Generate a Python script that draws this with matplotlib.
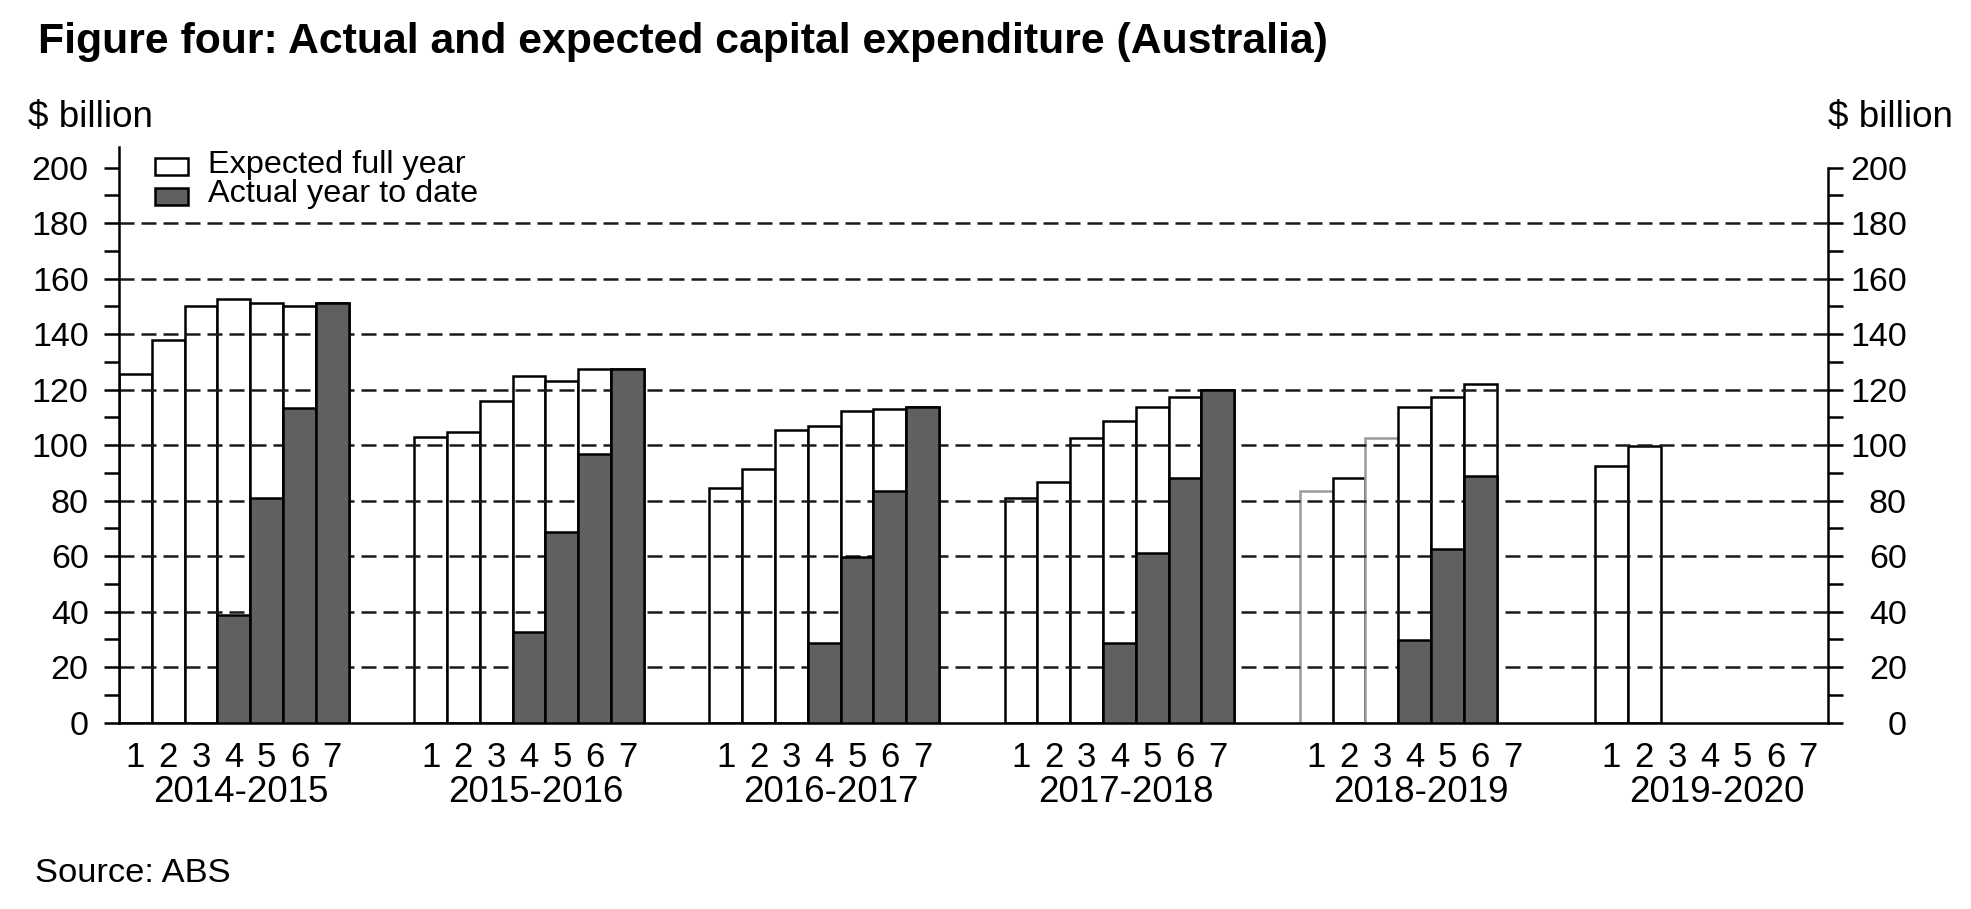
import numpy as np
import matplotlib
matplotlib.use('Agg')
import matplotlib.pyplot as plt
from matplotlib.patches import Rectangle
from matplotlib.transforms import blended_transform_factory

plt.rcParams['font.family'] = ['Liberation Sans', 'DejaVu Sans']

years = ['2014-2015', '2015-2016', '2016-2017', '2017-2018', '2018-2019', '2019-2020']
estimates = ['1', '2', '3', '4', '5', '6', '7']
nan = np.nan

# expected full year capex, $ billion, by estimate number
expected = [
    [125.6, 138.0, 150.3, 152.8, 151.2, 150.3, 151.2],
    [103.0, 104.6, 116.0, 124.8, 123.2, 127.4, 127.4],
    [84.4, 91.4, 105.5, 107.0, 112.3, 113.1, 113.9],
    [80.8, 86.9, 102.6, 108.8, 113.9, 117.5, 119.8],
    [83.6, 88.1, 102.5, 113.9, 117.5, 122.0, nan],
    [92.4, 99.8, nan, nan, nan, nan, nan],
]
# actual year to date
actual = [
    [nan, nan, nan, 38.8, 81.0, 113.5, 151.2],
    [nan, nan, nan, 32.8, 68.7, 96.9, 127.4],
    [nan, nan, nan, 28.9, 59.6, 83.5, 113.9],
    [nan, nan, nan, 28.9, 61.0, 88.0, 119.8],
    [nan, nan, nan, 29.8, 62.7, 89.0, nan],
    [nan, nan, nan, nan, nan, nan, nan],
]
# expected bars drawn with a grey outline (year index, estimate index)
grey_bars = [(4, 0), (4, 2)]

W, H = 1971, 909
def fx(x):
    return x / W
def fy(y):
    return 1 - y / H

fig = plt.figure(figsize=(W / 100, H / 100), dpi=100)
ax = fig.add_axes([fx(119), fy(722.7), fx(1828 - 119), (722.7 - 146.6) / H])

slots = 9
lw = 1.8
xs, exp_h, act_h, edges = [], [], [], []
for g in range(len(years)):
    for p in range(7):
        xs.append(g * slots + p + 0.5)
        exp_h.append(expected[g][p])
        act_h.append(actual[g][p])
        edges.append('#9a9a9a' if (g, p) in grey_bars else 'black')
xs = np.array(xs)

ax.bar(xs, exp_h, width=1.0, color='white', edgecolor=edges, linewidth=lw, zorder=1)
for y in range(20, 200, 20):
    ax.axhline(y, color='#1a1a1a', linewidth=lw, linestyle=(0, (6.0, 2.8)), zorder=2)
ax.bar(xs, act_h, width=1.0, color='#606060', edgecolor='black', linewidth=lw, zorder=3)

ax.set_xlim(0, 52.1)
ax.set_ylim(0, 207.6)
ax.spines['top'].set_visible(False)
ax.spines['right'].set_visible(False)
for s in ['left', 'bottom']:
    ax.spines[s].set_linewidth(lw)

ax.set_xticks(xs)
ax.set_xticklabels(estimates * len(years), fontsize=25)
ax.tick_params(axis='x', length=0, pad=13)

major = np.arange(0, 201, 20)
minor = np.arange(10, 200, 20)
ax.set_yticks(major)
ax.set_yticks(minor, minor=True)
ax.tick_params(axis='y', which='both', direction='out', length=10.8, width=lw,
               labelsize=24.5, pad=11)

sec = ax.secondary_yaxis('right')
sec.set_yticks(major)
sec.set_yticks(minor, minor=True)
sec.tick_params(axis='y', which='both', direction='out', length=10.8, width=lw,
                labelsize=24.5, pad=46)
sec.spines['right'].set_linewidth(lw)
sec.spines['right'].set_bounds(0, 200)
for lab in sec.get_yticklabels():
    lab.set_ha('right')

trans = blended_transform_factory(ax.transData, fig.transFigure)
for g, yr in enumerate(years):
    ax.text(g * slots + 3.7, fy(801.7), yr, transform=trans, ha='center', va='baseline',
            fontsize=26.5)

fig.text(fx(28), fy(126.7), '$ billion', fontsize=26.5, va='baseline', ha='left')
fig.text(fx(1828), fy(126.7), '$ billion', fontsize=26.5, va='baseline', ha='left')

# legend
fig.patches.append(Rectangle((fx(155), fy(175)), fx(33), 17 / H, transform=fig.transFigure,
                             facecolor='white', edgecolor='black', linewidth=lw))
fig.patches.append(Rectangle((fx(155), fy(205)), fx(33), 17 / H, transform=fig.transFigure,
                             facecolor='#606060', edgecolor='black', linewidth=lw))
fig.text(fx(208), fy(173), 'Expected full year', fontsize=23.3, va='baseline')
fig.text(fx(208), fy(201.7), 'Actual year to date', fontsize=23.3, va='baseline')

fig.text(fx(38), fy(53), 'Figure four: Actual and expected capital expenditure (Australia)',
         fontsize=30.8, fontweight='bold', va='baseline')
fig.text(fx(35), fy(881.7), 'Source: ABS', fontsize=24.8, va='baseline')

fig.savefig('out.png', dpi=100)
